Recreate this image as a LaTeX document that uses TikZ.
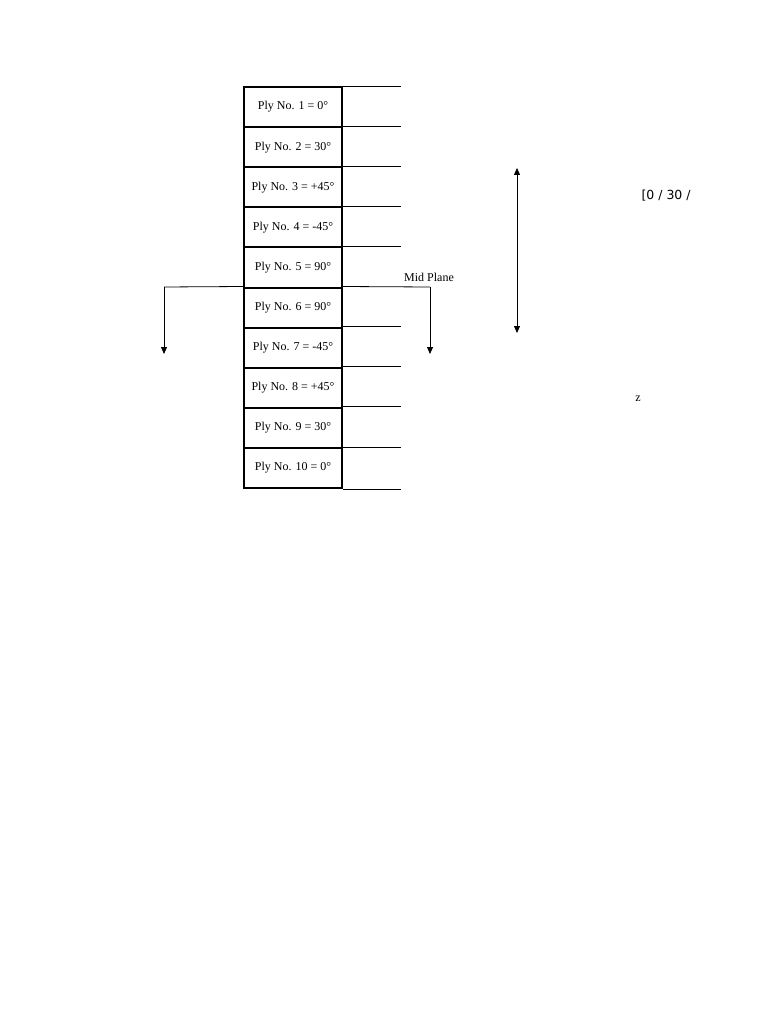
\documentclass[tikz,border=0pt]{standalone}
\usepackage{fontspec}
\setmainfont{Liberation Serif}
\newfontfamily\stacksans{DejaVu Sans}
\usetikzlibrary{arrows.meta}

\begin{document}
\begin{tikzpicture}[x=1pt,y=-1pt,
    plybox/.style={draw,line width=2pt,minimum width=98pt,minimum height=40.1pt,
        inner sep=0pt,font=\fontsize{12}{14}\selectfont},
    rule/.style={line width=0.8pt},
    tip/.style={-{Triangle[width=6pt,length=7pt]}}]
    \useasboundingbox (0,0) rectangle (768,1024);

    % the plies
    \foreach \i/\ang in {1/0,2/30,3/+45,4/-45,5/90,6/90,7/-45,8/+45,9/30,10/0}
        \node[plybox] (ply\i) at (293,{87+40.1*(\i-0.5)}) {Ply No. \i\ = \ang°};

    % lines at the right of the stack
    \foreach \i in {1,2,3,4,5,7,8,9,10}
        \draw[rule] (ply\i.north east) -- ++(58,0);
    \draw[rule] (ply10.south east) -- ++(58,0);

    % mid plane
    \coordinate (midL) at (164,287);
    \coordinate (midLend) at (164,354);
    \coordinate (midR) at (430,287);
    \coordinate (midRend) at (430,354);
    \draw[rule] (ply6.north west) -- (midL);
    \draw[rule,tip] (midL) -- (midLend);
    \draw[rule] (ply6.north east) -- (midR);
    \draw[rule,tip] (midR) -- (midRend);
    \node[anchor=south,font=\fontsize{12}{14}\selectfont] (midlabel) at (429,285) {Mid Plane};

    % thickness arrow
    \coordinate (hTop) at (517,168);
    \coordinate (hBot) at (517,333);
    \draw[rule,{Triangle[width=6pt,length=7pt]}-{Triangle[width=6pt,length=7pt]}] (hTop) -- (hBot);

    \node[anchor=west,font=\stacksans\fontsize{12.5}{14}\selectfont] (stack) at (638,196) {[0 / 30 /};
    \node[font=\fontsize{12}{14}\selectfont] (zlabel) at (638,399) {z};
\end{tikzpicture}
\end{document}
